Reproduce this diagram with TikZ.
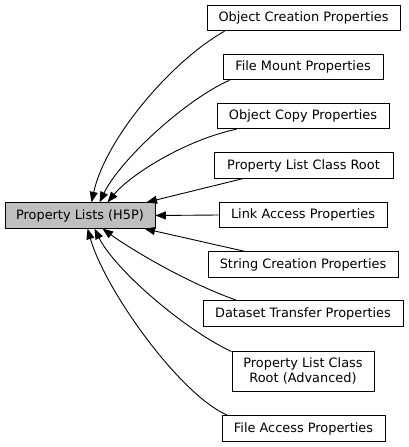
\documentclass[tikz,border=0pt]{standalone}
\usepackage{fontspec}
\setmainfont{DejaVu Sans}
\usetikzlibrary{arrows.meta,calc}
\definecolor{maingray}{RGB}{191,191,191}
\begin{document}
\begin{tikzpicture}[x=1pt,y=-1pt,
  box/.style={draw=black, line width=0.9pt, rectangle, minimum height=25.5pt, inner sep=0pt, font=\fontsize{12.9}{15.5}\selectfont, align=center, text=black},
  mainbox/.style={box, fill=maingray},
  edge/.style={line width=0.9pt, -{Triangle[length=10.5pt,width=8pt]}}]
\useasboundingbox[fill=white] (0,0) rectangle (408,447);
\node[mainbox, minimum width=150pt] (main) at (80,215.5) {Property Lists (H5P)};
\node[box, minimum width=193pt] (oc) at (303.5,18) {Object Creation Properties};
\node[box, minimum width=160pt] (fm) at (303,67) {File Mount Properties};
\node[box, minimum width=172pt] (ocp) at (303,116) {Object Copy Properties};
\node[box, minimum width=179pt] (plcr) at (303.5,165.5) {Property List Class Root};
\node[box, minimum width=168pt] (la) at (303,215) {Link Access Properties};
\node[box, minimum width=190pt] (sc) at (303,264.5) {String Creation Properties};
\node[box, minimum width=200pt] (dt) at (303,313.5) {Dataset Transfer Properties};
\node[box, minimum width=142pt, minimum height=40pt] (adv) at (303,371) {Property List Class\\Root (Advanced)};
\node[box, minimum width=163pt] (fa) at (303.5,428.5) {File Access Properties};

\draw[edge] ($(oc.south west)+(18,0)$) .. controls (170,62) and (105,140) .. ($(main.north west)+(87,0)$);
\draw[edge] ($(fm.south west)+(7,0)$) .. controls (185,100) and (120,160) .. ($(main.north west)+(95,0)$);
\draw[edge] ($(ocp.south west)+(20,0)$) .. controls (185,140) and (130,175) .. ($(main.north west)+(103,0)$);
\draw[edge] ($(plcr.south west)+(29,0)$) -- ($(main.north west)+(142,0)$);
\draw[edge] (la.west) -- (main.east);
\draw[edge] ($(sc.north west)+(37,0)$) -- ($(main.south west)+(140,0)$);
\draw[edge] ($(dt.north west)+(34,0)$) .. controls (180,280) and (125,245) .. ($(main.south west)+(98,0)$);
\draw[edge] ($(adv.north west)+(0,1)$) .. controls (185,330) and (115,270) .. ($(main.south west)+(90,0)$);
\draw[edge] ($(fa.north west)+(6,0)$) .. controls (180,395) and (105,290) .. ($(main.south west)+(83,0)$);
\end{tikzpicture}
\end{document}
